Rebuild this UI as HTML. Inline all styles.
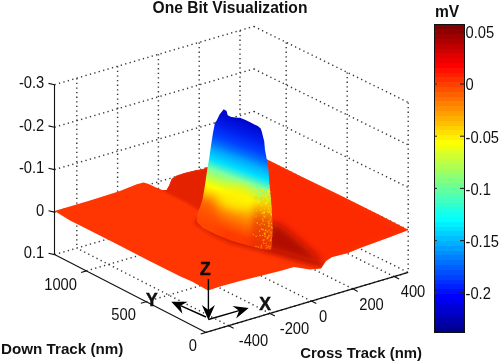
<!DOCTYPE html>
<html><head><meta charset="utf-8"><style>
html,body{margin:0;padding:0;background:#fff;}
svg{display:block;}
.g{stroke:#3a3a3a;stroke-width:1.45;stroke-dasharray:1.3 3.3;fill:none;}
.a{stroke:#111;stroke-width:1.1;fill:none;}
text{font-family:"Liberation Sans",Arial,Helvetica,sans-serif;fill:#111;}
.t{font-size:16px;}
.b{font-weight:bold;font-size:15.2px;}
</style></head><body>
<svg width="500" height="363" viewBox="0 0 500 363">
<defs>
<linearGradient id="cb" x1="0" y1="0" x2="0" y2="1"><stop offset="0.0000" stop-color="#800000"/><stop offset="0.0156" stop-color="#800000"/><stop offset="0.0156" stop-color="#8f0000"/><stop offset="0.0312" stop-color="#8f0000"/><stop offset="0.0312" stop-color="#9f0000"/><stop offset="0.0469" stop-color="#9f0000"/><stop offset="0.0469" stop-color="#af0000"/><stop offset="0.0625" stop-color="#af0000"/><stop offset="0.0625" stop-color="#bf0000"/><stop offset="0.0781" stop-color="#bf0000"/><stop offset="0.0781" stop-color="#cf0000"/><stop offset="0.0938" stop-color="#cf0000"/><stop offset="0.0938" stop-color="#df0000"/><stop offset="0.1094" stop-color="#df0000"/><stop offset="0.1094" stop-color="#ef0000"/><stop offset="0.1250" stop-color="#ef0000"/><stop offset="0.1250" stop-color="#ff0000"/><stop offset="0.1406" stop-color="#ff0000"/><stop offset="0.1406" stop-color="#ff1000"/><stop offset="0.1562" stop-color="#ff1000"/><stop offset="0.1562" stop-color="#ff2000"/><stop offset="0.1719" stop-color="#ff2000"/><stop offset="0.1719" stop-color="#ff3000"/><stop offset="0.1875" stop-color="#ff3000"/><stop offset="0.1875" stop-color="#ff4000"/><stop offset="0.2031" stop-color="#ff4000"/><stop offset="0.2031" stop-color="#ff5000"/><stop offset="0.2188" stop-color="#ff5000"/><stop offset="0.2188" stop-color="#ff6000"/><stop offset="0.2344" stop-color="#ff6000"/><stop offset="0.2344" stop-color="#ff7000"/><stop offset="0.2500" stop-color="#ff7000"/><stop offset="0.2500" stop-color="#ff8000"/><stop offset="0.2656" stop-color="#ff8000"/><stop offset="0.2656" stop-color="#ff8f00"/><stop offset="0.2812" stop-color="#ff8f00"/><stop offset="0.2812" stop-color="#ff9f00"/><stop offset="0.2969" stop-color="#ff9f00"/><stop offset="0.2969" stop-color="#ffaf00"/><stop offset="0.3125" stop-color="#ffaf00"/><stop offset="0.3125" stop-color="#ffbf00"/><stop offset="0.3281" stop-color="#ffbf00"/><stop offset="0.3281" stop-color="#ffcf00"/><stop offset="0.3438" stop-color="#ffcf00"/><stop offset="0.3438" stop-color="#ffdf00"/><stop offset="0.3594" stop-color="#ffdf00"/><stop offset="0.3594" stop-color="#ffef00"/><stop offset="0.3750" stop-color="#ffef00"/><stop offset="0.3750" stop-color="#ffff00"/><stop offset="0.3906" stop-color="#ffff00"/><stop offset="0.3906" stop-color="#efff10"/><stop offset="0.4062" stop-color="#efff10"/><stop offset="0.4062" stop-color="#dfff20"/><stop offset="0.4219" stop-color="#dfff20"/><stop offset="0.4219" stop-color="#cfff30"/><stop offset="0.4375" stop-color="#cfff30"/><stop offset="0.4375" stop-color="#bfff40"/><stop offset="0.4531" stop-color="#bfff40"/><stop offset="0.4531" stop-color="#afff50"/><stop offset="0.4688" stop-color="#afff50"/><stop offset="0.4688" stop-color="#9fff60"/><stop offset="0.4844" stop-color="#9fff60"/><stop offset="0.4844" stop-color="#8fff70"/><stop offset="0.5000" stop-color="#8fff70"/><stop offset="0.5000" stop-color="#80ff80"/><stop offset="0.5156" stop-color="#80ff80"/><stop offset="0.5156" stop-color="#70ff8f"/><stop offset="0.5312" stop-color="#70ff8f"/><stop offset="0.5312" stop-color="#60ff9f"/><stop offset="0.5469" stop-color="#60ff9f"/><stop offset="0.5469" stop-color="#50ffaf"/><stop offset="0.5625" stop-color="#50ffaf"/><stop offset="0.5625" stop-color="#40ffbf"/><stop offset="0.5781" stop-color="#40ffbf"/><stop offset="0.5781" stop-color="#30ffcf"/><stop offset="0.5938" stop-color="#30ffcf"/><stop offset="0.5938" stop-color="#20ffdf"/><stop offset="0.6094" stop-color="#20ffdf"/><stop offset="0.6094" stop-color="#10ffef"/><stop offset="0.6250" stop-color="#10ffef"/><stop offset="0.6250" stop-color="#00ffff"/><stop offset="0.6406" stop-color="#00ffff"/><stop offset="0.6406" stop-color="#00efff"/><stop offset="0.6562" stop-color="#00efff"/><stop offset="0.6562" stop-color="#00dfff"/><stop offset="0.6719" stop-color="#00dfff"/><stop offset="0.6719" stop-color="#00cfff"/><stop offset="0.6875" stop-color="#00cfff"/><stop offset="0.6875" stop-color="#00bfff"/><stop offset="0.7031" stop-color="#00bfff"/><stop offset="0.7031" stop-color="#00afff"/><stop offset="0.7188" stop-color="#00afff"/><stop offset="0.7188" stop-color="#009fff"/><stop offset="0.7344" stop-color="#009fff"/><stop offset="0.7344" stop-color="#008fff"/><stop offset="0.7500" stop-color="#008fff"/><stop offset="0.7500" stop-color="#0080ff"/><stop offset="0.7656" stop-color="#0080ff"/><stop offset="0.7656" stop-color="#0070ff"/><stop offset="0.7812" stop-color="#0070ff"/><stop offset="0.7812" stop-color="#0060ff"/><stop offset="0.7969" stop-color="#0060ff"/><stop offset="0.7969" stop-color="#0050ff"/><stop offset="0.8125" stop-color="#0050ff"/><stop offset="0.8125" stop-color="#0040ff"/><stop offset="0.8281" stop-color="#0040ff"/><stop offset="0.8281" stop-color="#0030ff"/><stop offset="0.8438" stop-color="#0030ff"/><stop offset="0.8438" stop-color="#0020ff"/><stop offset="0.8594" stop-color="#0020ff"/><stop offset="0.8594" stop-color="#0010ff"/><stop offset="0.8750" stop-color="#0010ff"/><stop offset="0.8750" stop-color="#0000ff"/><stop offset="0.8906" stop-color="#0000ff"/><stop offset="0.8906" stop-color="#0000ef"/><stop offset="0.9062" stop-color="#0000ef"/><stop offset="0.9062" stop-color="#0000df"/><stop offset="0.9219" stop-color="#0000df"/><stop offset="0.9219" stop-color="#0000cf"/><stop offset="0.9375" stop-color="#0000cf"/><stop offset="0.9375" stop-color="#0000bf"/><stop offset="0.9531" stop-color="#0000bf"/><stop offset="0.9531" stop-color="#0000af"/><stop offset="0.9688" stop-color="#0000af"/><stop offset="0.9688" stop-color="#00009f"/><stop offset="0.9844" stop-color="#00009f"/><stop offset="0.9844" stop-color="#00008f"/><stop offset="1.0000" stop-color="#00008f"/></linearGradient>
<linearGradient id="pk" gradientUnits="userSpaceOnUse" x1="210" y1="110" x2="167.6" y2="227.6">
<stop offset="0.000" stop-color="#0008d0"/>
<stop offset="0.100" stop-color="#0020f0"/>
<stop offset="0.180" stop-color="#0040ff"/>
<stop offset="0.240" stop-color="#0070ff"/>
<stop offset="0.292" stop-color="#00a8ff"/>
<stop offset="0.368" stop-color="#00e0ff"/>
<stop offset="0.444" stop-color="#80ffa0"/>
<stop offset="0.528" stop-color="#d0ff30"/>
<stop offset="0.572" stop-color="#ffff00"/>
<stop offset="0.647" stop-color="#ffc800"/>
<stop offset="0.722" stop-color="#ff9000"/>
<stop offset="0.800" stop-color="#ff6000"/>
<stop offset="0.870" stop-color="#ff3c00"/>
<stop offset="1.000" stop-color="#ff3400"/>
</linearGradient>
<filter id="b1" x="-30%" y="-30%" width="160%" height="160%"><feGaussianBlur stdDeviation="1"/></filter><filter id="b2" x="-30%" y="-30%" width="160%" height="160%"><feGaussianBlur stdDeviation="2"/></filter><filter id="b3" x="-30%" y="-30%" width="160%" height="160%"><feGaussianBlur stdDeviation="3"/></filter><filter id="b4" x="-30%" y="-30%" width="160%" height="160%"><feGaussianBlur stdDeviation="4"/></filter><filter id="b5" x="-50%" y="-50%" width="200%" height="200%"><feGaussianBlur stdDeviation="5"/></filter><filter id="b6" x="-50%" y="-50%" width="200%" height="200%"><feGaussianBlur stdDeviation="7"/></filter>
<linearGradient id="ov" gradientUnits="userSpaceOnUse" x1="0" y1="195" x2="0" y2="222"><stop offset="0" stop-color="#e42800" stop-opacity="0"/><stop offset="1" stop-color="#e42800" stop-opacity="0.65"/></linearGradient><clipPath id="pc"><polygon points="223.7,109.2 226.6,111.1 227.7,115.2 231.2,116.9 235.8,117.5 240.5,118.0 245.0,119.8 249.7,122.1 254.4,124.4 257.8,126.1 260.7,128.5 261.9,132.0 263.0,136.6 264.2,141.2 265.0,150.0 266.5,158.0 268.5,170.0 269.5,185.0 271.0,200.0 272.0,215.0 272.5,232.0 271.0,250.0 262.0,249.0 250.0,246.0 232.0,241.0 215.0,234.0 203.0,228.0 197.0,222.0 197.5,214.0 200.6,206.0 202.5,200.0 205.0,185.0 207.3,169.3 209.3,157.8 211.2,144.3 213.0,132.8 215.0,122.7 216.7,120.4 219.6,114.6"/></clipPath><clipPath id="sc"><polygon points="54.5,211.0 90.0,200.5 120.0,191.0 136.8,184.2 143.6,182.5 148.7,183.9 155.5,187.3 162.3,189.9 166.6,189.9 169.1,185.6 171.7,178.8 176.8,175.4 184.4,172.9 194.6,170.6 203.1,168.9 207.4,166.9 240.0,160.0 262.0,158.0 267.0,159.6 300.0,175.9 340.0,195.3 380.0,215.3 408.5,230.0 390.0,237.0 360.0,248.0 348.0,253.0 332.0,257.0 326.0,261.0 321.0,268.5 310.0,269.5 294.0,267.0 280.0,271.0 260.0,276.0 240.0,281.0 220.0,286.5 208.0,290.6 192.0,281.6 180.0,276.2 150.0,261.2 120.0,245.8 90.0,230.4 70.0,220.5"/></clipPath>
</defs>
<rect width="500" height="363" fill="#fff"/>
<g><line x1="54.5" y1="84.7" x2="253.8" y2="26.4" class="g"/>
<line x1="54.5" y1="127.2" x2="253.8" y2="68.9" class="g"/>
<line x1="54.5" y1="169.6" x2="253.8" y2="111.4" class="g"/>
<line x1="54.5" y1="212.1" x2="253.8" y2="153.9" class="g"/>
<line x1="54.5" y1="254.6" x2="253.8" y2="196.4" class="g"/>
<line x1="76.8" y1="78.2" x2="76.8" y2="248.1" class="g"/>
<line x1="117.6" y1="66.2" x2="117.6" y2="236.2" class="g"/>
<line x1="158.4" y1="54.3" x2="158.4" y2="224.3" class="g"/>
<line x1="199.2" y1="42.4" x2="199.2" y2="212.3" class="g"/>
<line x1="240.0" y1="30.4" x2="240.0" y2="200.4" class="g"/>
<line x1="253.8" y1="26.4" x2="408.2" y2="102.4" class="g"/>
<line x1="253.8" y1="68.9" x2="408.2" y2="144.9" class="g"/>
<line x1="253.8" y1="111.4" x2="408.2" y2="187.4" class="g"/>
<line x1="253.8" y1="153.9" x2="408.2" y2="229.9" class="g"/>
<line x1="253.8" y1="196.4" x2="408.2" y2="272.4" class="g"/>
<line x1="408.2" y1="102.4" x2="408.2" y2="272.4" class="g"/>
<line x1="347.2" y1="72.4" x2="347.2" y2="242.4" class="g"/>
<line x1="286.2" y1="42.4" x2="286.2" y2="212.4" class="g"/>
<line x1="228.7" y1="325.7" x2="76.8" y2="248.1" class="g"/>
<line x1="270.0" y1="313.4" x2="117.6" y2="236.2" class="g"/>
<line x1="311.4" y1="301.1" x2="158.4" y2="224.3" class="g"/>
<line x1="352.8" y1="288.8" x2="199.2" y2="212.3" class="g"/>
<line x1="394.2" y1="276.6" x2="240.0" y2="200.4" class="g"/>
<line x1="206.0" y1="332.4" x2="408.2" y2="272.4" class="g"/>
<line x1="146.2" y1="301.7" x2="347.2" y2="242.4" class="g"/>
<line x1="86.3" y1="270.9" x2="286.2" y2="212.4" class="g"/></g>
<polygon points="54.5,211.0 90.0,200.5 120.0,191.0 136.8,184.2 143.6,182.5 148.7,183.9 155.5,187.3 162.3,189.9 166.6,189.9 169.1,185.6 171.7,178.8 176.8,175.4 184.4,172.9 194.6,170.6 203.1,168.9 207.4,166.9 240.0,160.0 262.0,158.0 267.0,159.6 300.0,175.9 340.0,195.3 380.0,215.3 408.5,230.0 390.0,237.0 360.0,248.0 348.0,253.0 332.0,257.0 326.0,261.0 321.0,268.5 310.0,269.5 294.0,267.0 280.0,271.0 260.0,276.0 240.0,281.0 220.0,286.5 208.0,290.6 192.0,281.6 180.0,276.2 150.0,261.2 120.0,245.8 90.0,230.4 70.0,220.5" fill="#ff3602"/>
<g clip-path="url(#sc)">
<polygon points="266,158 408.5,230.5 326,261 303,259.5 274,251" fill="#fd2c00" filter="url(#b2)"/>
<polygon points="163,191 169,185.6 171.7,178.8 176.8,175.4 184.4,172.9 194.6,170.6 203.1,168.9 207.4,166.9 210,170 204,205 200,211 186,202" fill="#e42200" filter="url(#b1)"/>
<polygon points="268,222 282,226 296,238 312,252 324,263 303,259.5 274,251 266,250" fill="#b01000" filter="url(#b4)"/>

<polyline points="196,221 214,233 232,241 255,247 274,251 303,259.5 323,265" fill="none" stroke="#c01400" stroke-width="4" filter="url(#b2)"/>
</g>
<polygon points="223.7,109.2 226.6,111.1 227.7,115.2 231.2,116.9 235.8,117.5 240.5,118.0 245.0,119.8 249.7,122.1 254.4,124.4 257.8,126.1 260.7,128.5 261.9,132.0 263.0,136.6 264.2,141.2 265.0,150.0 266.5,158.0 268.5,170.0 269.5,185.0 271.0,200.0 272.0,215.0 272.5,232.0 271.0,250.0 262.0,249.0 250.0,246.0 232.0,241.0 215.0,234.0 203.0,228.0 197.0,222.0 197.5,214.0 200.6,206.0 202.5,200.0 205.0,185.0 207.3,169.3 209.3,157.8 211.2,144.3 213.0,132.8 215.0,122.7 216.7,120.4 219.6,114.6" fill="url(#pk)"/>
<g clip-path="url(#pc)">
<ellipse cx="237" cy="197" rx="17" ry="12" fill="#fff000" opacity="0.75" filter="url(#b5)"/>
<polygon points="190,200 212,198 222,240 190,235" fill="#ff4c00" opacity="0.7" filter="url(#b5)"/>
<polygon points="255,192 278,192 278,255 249,255" fill="url(#ov)" filter="url(#b3)"/><rect x="267.4" y="190.9" width="1.5" height="1.5" fill="#f8f000"/><rect x="271.2" y="226.2" width="0.9" height="0.9" fill="#ffb000"/><rect x="261.6" y="188.8" width="0.9" height="0.9" fill="#f8f000"/><rect x="264.6" y="213.8" width="1.6" height="1.6" fill="#ff9000"/><rect x="268.5" y="229.6" width="1.1" height="1.1" fill="#ffb000"/><rect x="268.6" y="185.0" width="1.2" height="1.2" fill="#f8f000"/><rect x="271.6" y="210.0" width="1.4" height="1.4" fill="#ffb000"/><rect x="271.2" y="232.8" width="1.0" height="1.0" fill="#ffb000"/><rect x="262.3" y="213.2" width="1.0" height="1.0" fill="#ffb000"/><rect x="264.2" y="192.3" width="1.1" height="1.1" fill="#f8f000"/><rect x="271.4" y="235.6" width="1.0" height="1.0" fill="#ff7000"/><rect x="256.5" y="189.6" width="1.1" height="1.1" fill="#f8f000"/><rect x="263.2" y="208.4" width="1.2" height="1.2" fill="#ffb000"/><rect x="262.6" y="239.6" width="1.5" height="1.5" fill="#ff9000"/><rect x="268.0" y="200.7" width="1.6" height="1.6" fill="#ffd000"/><rect x="263.3" y="211.6" width="1.6" height="1.6" fill="#f8f000"/><rect x="268.1" y="222.6" width="1.4" height="1.4" fill="#ffb000"/><rect x="268.8" y="223.7" width="1.0" height="1.0" fill="#ff9000"/><rect x="262.6" y="193.3" width="1.6" height="1.6" fill="#ffd000"/><rect x="253.1" y="187.2" width="1.4" height="1.4" fill="#f8f000"/><rect x="271.2" y="186.3" width="1.4" height="1.4" fill="#f8f000"/><rect x="257.0" y="248.0" width="1.4" height="1.4" fill="#ff7000"/><rect x="269.8" y="231.4" width="1.5" height="1.5" fill="#ff9000"/><rect x="269.2" y="211.3" width="1.3" height="1.3" fill="#ffb000"/><rect x="271.9" y="240.4" width="1.4" height="1.4" fill="#ff9000"/><rect x="263.2" y="215.3" width="1.2" height="1.2" fill="#ffb000"/><rect x="263.5" y="243.0" width="1.1" height="1.1" fill="#ff9000"/><rect x="264.9" y="197.8" width="1.4" height="1.4" fill="#ffd000"/><rect x="264.6" y="197.5" width="1.5" height="1.5" fill="#ffd000"/><rect x="269.4" y="209.2" width="1.0" height="1.0" fill="#ffd000"/><rect x="265.6" y="244.9" width="1.2" height="1.2" fill="#ff9000"/><rect x="263.8" y="216.1" width="1.6" height="1.6" fill="#ffb000"/><rect x="260.0" y="189.7" width="0.9" height="0.9" fill="#ffd000"/><rect x="265.6" y="220.9" width="0.9" height="0.9" fill="#ff9000"/><rect x="253.0" y="213.7" width="1.1" height="1.1" fill="#ffb000"/><rect x="267.8" y="245.4" width="1.2" height="1.2" fill="#ff9000"/><rect x="265.7" y="196.3" width="1.4" height="1.4" fill="#f8f000"/><rect x="270.0" y="208.7" width="1.5" height="1.5" fill="#ffb000"/><rect x="270.8" y="214.2" width="1.4" height="1.4" fill="#ffd000"/><rect x="268.0" y="225.4" width="1.5" height="1.5" fill="#ffb000"/><rect x="271.6" y="246.6" width="1.1" height="1.1" fill="#ff7000"/><rect x="270.0" y="238.9" width="1.2" height="1.2" fill="#ff9000"/><rect x="267.6" y="195.9" width="1.0" height="1.0" fill="#ffd000"/><rect x="260.8" y="244.8" width="1.3" height="1.3" fill="#ff9000"/><rect x="269.8" y="198.1" width="1.3" height="1.3" fill="#ffd000"/><rect x="261.1" y="223.1" width="1.3" height="1.3" fill="#ff9000"/><rect x="260.8" y="228.5" width="1.2" height="1.2" fill="#ff9000"/><rect x="271.1" y="243.2" width="1.0" height="1.0" fill="#ff7000"/><rect x="260.5" y="205.0" width="1.5" height="1.5" fill="#ffd000"/><rect x="252.8" y="234.1" width="1.1" height="1.1" fill="#ffb000"/><rect x="265.1" y="205.3" width="1.0" height="1.0" fill="#ffd000"/><rect x="266.1" y="192.7" width="1.0" height="1.0" fill="#f8f000"/><rect x="261.7" y="212.5" width="1.3" height="1.3" fill="#ffd000"/><rect x="263.5" y="239.0" width="1.5" height="1.5" fill="#ff7000"/><rect x="269.9" y="204.9" width="1.1" height="1.1" fill="#ffb000"/><rect x="272.0" y="240.9" width="1.4" height="1.4" fill="#ff9000"/><rect x="259.3" y="234.8" width="1.4" height="1.4" fill="#ff9000"/><rect x="270.1" y="246.0" width="1.4" height="1.4" fill="#ff7000"/><rect x="261.1" y="228.2" width="1.0" height="1.0" fill="#ffb000"/><rect x="262.5" y="194.2" width="1.5" height="1.5" fill="#f8f000"/><rect x="271.8" y="243.4" width="1.6" height="1.6" fill="#ff9000"/><rect x="268.6" y="196.4" width="1.2" height="1.2" fill="#ffd000"/><rect x="271.6" y="235.7" width="1.4" height="1.4" fill="#ff7000"/><rect x="267.1" y="236.3" width="1.5" height="1.5" fill="#ff7000"/><rect x="258.9" y="230.5" width="1.2" height="1.2" fill="#ffb000"/><rect x="262.5" y="218.6" width="1.3" height="1.3" fill="#ff9000"/><rect x="255.6" y="210.3" width="1.2" height="1.2" fill="#ffd000"/><rect x="267.8" y="189.8" width="0.9" height="0.9" fill="#f8f000"/><rect x="270.5" y="195.1" width="1.2" height="1.2" fill="#f8f000"/><rect x="260.5" y="246.3" width="1.6" height="1.6" fill="#ff7000"/><rect x="268.0" y="223.0" width="1.2" height="1.2" fill="#ffb000"/><rect x="271.9" y="245.0" width="1.0" height="1.0" fill="#ff9000"/><rect x="269.6" y="234.4" width="1.1" height="1.1" fill="#ff9000"/><rect x="263.9" y="232.5" width="1.6" height="1.6" fill="#ffb000"/><rect x="270.1" y="240.4" width="1.1" height="1.1" fill="#ff9000"/><rect x="259.4" y="224.3" width="1.0" height="1.0" fill="#ffb000"/><rect x="263.9" y="208.5" width="1.1" height="1.1" fill="#ffd000"/><rect x="266.4" y="237.8" width="1.5" height="1.5" fill="#ff9000"/><rect x="263.7" y="233.4" width="1.1" height="1.1" fill="#ff9000"/><rect x="267.8" y="208.2" width="1.1" height="1.1" fill="#ffb000"/><rect x="259.4" y="208.3" width="1.0" height="1.0" fill="#ffb000"/><rect x="265.3" y="202.8" width="1.4" height="1.4" fill="#f8f000"/><rect x="270.1" y="212.6" width="1.1" height="1.1" fill="#ffd000"/><rect x="264.3" y="235.7" width="1.5" height="1.5" fill="#ff9000"/><rect x="269.8" y="190.3" width="1.4" height="1.4" fill="#f8f000"/><rect x="264.3" y="200.5" width="1.3" height="1.3" fill="#ffd000"/><rect x="266.8" y="209.8" width="1.4" height="1.4" fill="#ffb000"/><rect x="265.6" y="242.6" width="1.4" height="1.4" fill="#ff7000"/><rect x="269.6" y="245.3" width="1.4" height="1.4" fill="#ff7000"/><rect x="267.6" y="211.6" width="1.4" height="1.4" fill="#ffd000"/><rect x="271.8" y="208.7" width="1.2" height="1.2" fill="#ffd000"/><rect x="256.4" y="246.1" width="1.0" height="1.0" fill="#ff9000"/><rect x="264.3" y="233.9" width="1.2" height="1.2" fill="#ffb000"/><rect x="262.8" y="242.3" width="1.0" height="1.0" fill="#ff9000"/><rect x="263.1" y="199.1" width="1.0" height="1.0" fill="#f8f000"/><rect x="266.7" y="204.6" width="1.2" height="1.2" fill="#ffb000"/><rect x="260.6" y="198.9" width="1.5" height="1.5" fill="#ffd000"/><rect x="263.3" y="194.9" width="1.1" height="1.1" fill="#f8f000"/><rect x="269.1" y="217.5" width="1.1" height="1.1" fill="#ff9000"/><rect x="268.1" y="190.2" width="1.0" height="1.0" fill="#f8f000"/><rect x="262.9" y="239.0" width="1.2" height="1.2" fill="#ff7000"/><rect x="270.2" y="190.7" width="1.3" height="1.3" fill="#f8f000"/><rect x="256.9" y="204.6" width="1.2" height="1.2" fill="#ffd000"/><rect x="271.3" y="237.3" width="1.2" height="1.2" fill="#ffb000"/><rect x="265.6" y="200.0" width="0.9" height="0.9" fill="#f8f000"/><rect x="271.8" y="235.4" width="1.1" height="1.1" fill="#ff9000"/><rect x="264.9" y="229.6" width="1.5" height="1.5" fill="#ffb000"/><rect x="263.0" y="190.7" width="1.0" height="1.0" fill="#f8f000"/><rect x="266.9" y="236.7" width="1.2" height="1.2" fill="#ff9000"/><rect x="271.6" y="234.7" width="0.9" height="0.9" fill="#ff9000"/><rect x="267.3" y="237.0" width="1.4" height="1.4" fill="#ff9000"/><rect x="269.9" y="219.5" width="1.0" height="1.0" fill="#ffb000"/><rect x="265.7" y="247.2" width="1.5" height="1.5" fill="#ff7000"/><rect x="262.7" y="228.9" width="1.2" height="1.2" fill="#ff9000"/><rect x="262.3" y="220.3" width="1.6" height="1.6" fill="#ff9000"/><rect x="268.0" y="222.9" width="1.1" height="1.1" fill="#ff9000"/><rect x="269.7" y="200.2" width="1.0" height="1.0" fill="#ffd000"/><rect x="262.1" y="189.8" width="1.6" height="1.6" fill="#f8f000"/><rect x="270.7" y="226.5" width="1.4" height="1.4" fill="#ff9000"/><rect x="271.1" y="222.8" width="1.3" height="1.3" fill="#ffb000"/><rect x="268.8" y="210.8" width="1.5" height="1.5" fill="#ffd000"/><rect x="269.9" y="205.2" width="1.5" height="1.5" fill="#ffd000"/><rect x="256.7" y="222.4" width="1.2" height="1.2" fill="#ffd000"/><rect x="261.1" y="210.0" width="1.3" height="1.3" fill="#ffb000"/><rect x="271.3" y="226.9" width="1.5" height="1.5" fill="#ffb000"/><rect x="269.9" y="191.2" width="1.3" height="1.3" fill="#f8f000"/><rect x="270.9" y="185.0" width="1.1" height="1.1" fill="#f8f000"/><rect x="271.5" y="214.8" width="1.5" height="1.5" fill="#ffd000"/><rect x="269.7" y="197.3" width="1.2" height="1.2" fill="#f8f000"/><rect x="269.4" y="188.2" width="1.1" height="1.1" fill="#f8f000"/><rect x="269.8" y="239.8" width="1.4" height="1.4" fill="#ff9000"/><rect x="270.6" y="213.0" width="1.1" height="1.1" fill="#ffd000"/><rect x="265.6" y="197.4" width="1.4" height="1.4" fill="#f8f000"/><rect x="267.4" y="208.5" width="1.3" height="1.3" fill="#ffb000"/><rect x="261.6" y="218.4" width="1.1" height="1.1" fill="#ffb000"/><rect x="255.5" y="235.6" width="1.4" height="1.4" fill="#ff9000"/><rect x="263.4" y="199.8" width="1.5" height="1.5" fill="#ffd000"/><rect x="267.4" y="199.9" width="1.3" height="1.3" fill="#f8f000"/><rect x="254.0" y="194.6" width="1.2" height="1.2" fill="#f8f000"/><rect x="262.0" y="234.9" width="1.1" height="1.1" fill="#ffb000"/><rect x="268.3" y="234.6" width="1.2" height="1.2" fill="#ff9000"/><rect x="254.8" y="246.1" width="1.4" height="1.4" fill="#ff7000"/><rect x="271.7" y="194.1" width="0.9" height="0.9" fill="#ffd000"/><rect x="266.8" y="231.2" width="1.3" height="1.3" fill="#ffb000"/><rect x="263.4" y="187.5" width="0.9" height="0.9" fill="#f8f000"/><rect x="267.2" y="198.6" width="1.3" height="1.3" fill="#f8f000"/><rect x="271.9" y="227.8" width="1.2" height="1.2" fill="#ffb000"/><rect x="265.7" y="201.9" width="1.6" height="1.6" fill="#f8f000"/><rect x="270.0" y="186.3" width="1.0" height="1.0" fill="#f8f000"/><rect x="269.4" y="205.5" width="0.9" height="0.9" fill="#ffd000"/><rect x="258.7" y="200.0" width="1.3" height="1.3" fill="#f8f000"/><rect x="265.7" y="210.5" width="1.1" height="1.1" fill="#ffb000"/><rect x="271.0" y="239.7" width="1.0" height="1.0" fill="#ff7000"/><rect x="259.4" y="209.7" width="1.1" height="1.1" fill="#ffd000"/><rect x="260.9" y="202.6" width="1.2" height="1.2" fill="#ffd000"/><rect x="262.2" y="229.1" width="1.2" height="1.2" fill="#ffb000"/><rect x="257.2" y="201.0" width="1.5" height="1.5" fill="#f8f000"/><rect x="271.0" y="207.8" width="1.4" height="1.4" fill="#ffb000"/><rect x="263.8" y="224.1" width="1.1" height="1.1" fill="#ffb000"/><rect x="268.3" y="240.4" width="0.9" height="0.9" fill="#ff7000"/><rect x="257.9" y="246.5" width="1.1" height="1.1" fill="#ff9000"/><rect x="265.0" y="199.8" width="1.2" height="1.2" fill="#ffd000"/><rect x="268.3" y="246.0" width="1.5" height="1.5" fill="#ff7000"/><rect x="262.4" y="208.3" width="1.3" height="1.3" fill="#ffb000"/><rect x="265.5" y="192.1" width="1.2" height="1.2" fill="#ffd000"/><rect x="268.2" y="220.8" width="1.3" height="1.3" fill="#ffb000"/><rect x="268.3" y="235.5" width="1.4" height="1.4" fill="#ff9000"/><rect x="255.1" y="196.6" width="1.6" height="1.6" fill="#ffd000"/><rect x="271.3" y="193.4" width="1.3" height="1.3" fill="#f8f000"/><rect x="271.9" y="192.6" width="1.3" height="1.3" fill="#f8f000"/><rect x="260.6" y="208.5" width="1.5" height="1.5" fill="#ffb000"/><rect x="266.8" y="246.8" width="1.3" height="1.3" fill="#ff7000"/><rect x="267.6" y="194.3" width="1.6" height="1.6" fill="#f8f000"/><rect x="255.5" y="215.8" width="0.9" height="0.9" fill="#ffd000"/><rect x="258.0" y="201.4" width="1.5" height="1.5" fill="#f8f000"/><rect x="260.6" y="247.8" width="1.2" height="1.2" fill="#ff7000"/><rect x="269.0" y="247.6" width="1.4" height="1.4" fill="#ff7000"/><rect x="266.6" y="204.5" width="1.0" height="1.0" fill="#f8f000"/><rect x="271.1" y="185.7" width="1.5" height="1.5" fill="#f8f000"/><rect x="267.8" y="208.0" width="1.1" height="1.1" fill="#ffd000"/><rect x="269.9" y="205.3" width="1.4" height="1.4" fill="#ffd000"/><rect x="265.0" y="196.2" width="1.1" height="1.1" fill="#f8f000"/><rect x="271.0" y="197.9" width="1.4" height="1.4" fill="#f8f000"/><rect x="271.2" y="198.8" width="1.0" height="1.0" fill="#ffd000"/><rect x="271.8" y="194.3" width="1.4" height="1.4" fill="#f8f000"/>
</g>
<g><line x1="54.5" y1="84.7" x2="54.5" y2="254.6" class="a"/>
<line x1="54.5" y1="254.6" x2="206.0" y2="332.4" class="a"/>
<line x1="206.0" y1="332.4" x2="408.2" y2="272.4" class="a"/>
<line x1="54.5" y1="84.7" x2="48.5" y2="83.4" class="a"/>
<line x1="54.5" y1="127.2" x2="48.5" y2="125.9" class="a"/>
<line x1="54.5" y1="169.6" x2="48.5" y2="168.3" class="a"/>
<line x1="54.5" y1="212.1" x2="48.5" y2="210.8" class="a"/>
<line x1="54.5" y1="254.6" x2="48.5" y2="253.3" class="a"/>
<line x1="206.0" y1="332.4" x2="200.7" y2="334.0" class="a"/>
<line x1="146.2" y1="301.7" x2="140.9" y2="303.2" class="a"/>
<line x1="86.3" y1="270.9" x2="81.1" y2="272.5" class="a"/>
<line x1="228.7" y1="325.7" x2="233.6" y2="328.2" class="a"/>
<line x1="270.0" y1="313.4" x2="274.9" y2="315.9" class="a"/>
<line x1="311.4" y1="301.1" x2="316.3" y2="303.6" class="a"/>
<line x1="352.8" y1="288.8" x2="357.7" y2="291.4" class="a"/>
<line x1="394.2" y1="276.6" x2="399.1" y2="279.1" class="a"/></g>
<text class="t" text-anchor="end" transform="translate(44.3 88.4) scale(0.92 1)">-0.3</text>
<text class="t" text-anchor="end" transform="translate(44.3 130.9) scale(0.92 1)">-0.2</text>
<text class="t" text-anchor="end" transform="translate(44.3 173.3) scale(0.92 1)">-0.1</text>
<text class="t" text-anchor="end" transform="translate(44.3 215.8) scale(0.92 1)">0</text>
<text class="t" text-anchor="end" transform="translate(44.3 258.3) scale(0.92 1)">0.1</text>
<text class="t" text-anchor="start" transform="translate(44.2 289.5) scale(0.92 1)">1000</text>
<text class="t" text-anchor="start" transform="translate(111.3 319.8) scale(0.92 1)">500</text>
<text class="t" text-anchor="start" transform="translate(188.8 351.0) scale(0.92 1)">0</text>
<text class="t" text-anchor="middle" transform="translate(253.5 345.5) scale(0.92 1)">-400</text>
<text class="t" text-anchor="middle" transform="translate(294.5 334.0) scale(0.92 1)">-200</text>
<text class="t" text-anchor="middle" transform="translate(323.0 322.0) scale(0.92 1)">0</text>
<text class="t" text-anchor="middle" transform="translate(371.5 310.0) scale(0.92 1)">200</text>
<text class="t" text-anchor="middle" transform="translate(413.0 297.3) scale(0.92 1)">400</text>
<text class="t" text-anchor="start" transform="translate(465.5 38.1) scale(0.92 1)">0.05</text>
<text class="t" text-anchor="start" transform="translate(465.5 90.3) scale(0.92 1)">0</text>
<text class="t" text-anchor="start" transform="translate(465.5 142.5) scale(0.92 1)">-0.05</text>
<text class="t" text-anchor="start" transform="translate(465.5 194.7) scale(0.92 1)">-0.1</text>
<text class="t" text-anchor="start" transform="translate(465.5 246.9) scale(0.92 1)">-0.15</text>
<text class="t" text-anchor="start" transform="translate(465.5 299.1) scale(0.92 1)">-0.2</text>
<text class="b" style="font-size:15.6px" x="230" y="12.6" text-anchor="middle">One Bit Visualization</text>
<text class="b" x="1" y="354">Down Track (nm)</text>
<text class="b" style="font-size:14.9px" x="300.3" y="358">Cross Track (nm)</text>
<text class="b" style="font-size:15.6px" x="435" y="16.5">mV</text>
<text class="b" style="font-size:17.5px;stroke:#000;stroke-width:0.45" x="200" y="275.2">Z</text>
<text class="b" style="font-size:17.5px;stroke:#000;stroke-width:0.45" x="259.3" y="310.2">X</text>
<text class="b" style="font-size:17.5px;stroke:#000;stroke-width:0.45" x="146" y="306">Y</text>
<line x1="208.4" y1="279.0" x2="208.4" y2="310.0" stroke="#000" stroke-width="1.4"/><polygon points="208.4,320.0 201.9,305.0 208.4,310.0 214.9,305.0" fill="#000"/><line x1="208.4" y1="319.5" x2="239.1" y2="310.7" stroke="#000" stroke-width="1.4"/><polygon points="248.7,308.0 236.1,318.4 239.1,310.7 232.5,305.9" fill="#000"/><line x1="206.0" y1="317.0" x2="180.5" y2="305.7" stroke="#000" stroke-width="1.4"/><polygon points="171.3,301.7 187.6,301.8 180.5,305.7 182.4,313.7" fill="#000"/>
<rect x="434.5" y="24.5" width="30" height="308" fill="url(#cb)" stroke="#111" stroke-width="1"/>
<line x1="434.5" y1="31.8" x2="437" y2="31.8" class="a" style="stroke:#333"/><line x1="460" y1="31.8" x2="464.5" y2="31.8" class="a" style="stroke:#222"/>
<line x1="434.5" y1="84.0" x2="437" y2="84.0" class="a" style="stroke:#333"/><line x1="460" y1="84.0" x2="464.5" y2="84.0" class="a" style="stroke:#222"/>
<line x1="434.5" y1="136.2" x2="437" y2="136.2" class="a" style="stroke:#333"/><line x1="460" y1="136.2" x2="464.5" y2="136.2" class="a" style="stroke:#222"/>
<line x1="434.5" y1="188.4" x2="437" y2="188.4" class="a" style="stroke:#333"/><line x1="460" y1="188.4" x2="464.5" y2="188.4" class="a" style="stroke:#222"/>
<line x1="434.5" y1="240.6" x2="437" y2="240.6" class="a" style="stroke:#333"/><line x1="460" y1="240.6" x2="464.5" y2="240.6" class="a" style="stroke:#222"/>
<line x1="434.5" y1="292.8" x2="437" y2="292.8" class="a" style="stroke:#333"/><line x1="460" y1="292.8" x2="464.5" y2="292.8" class="a" style="stroke:#222"/>
</svg>
</body></html>
